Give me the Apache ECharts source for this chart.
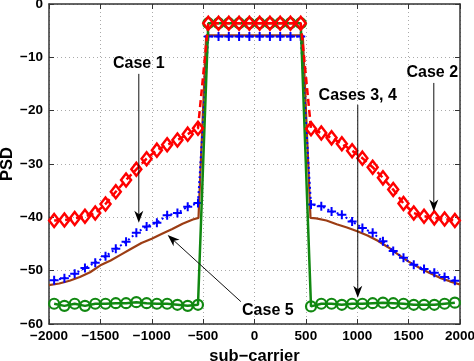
<!DOCTYPE html>
<html><head><meta charset="utf-8">
<script src="https://cdn.jsdelivr.net/npm/echarts@6/dist/echarts.min.js"></script>
<style>html,body{margin:0;padding:0;background:#fff}#c{width:474px;height:361px}</style>
</head><body><div id="c"></div>
<script>
// marker sub-carrier positions (shared by the marker series)
const markerX = [-1950,-1850,-1750,-1650,-1550,-1450,-1350,-1250,-1150,-1050,-950,-850,-750,-650,-550,
  -450,-350,-250,-150,-50,50,150,250,350,450,
  550,650,750,850,950,1050,1150,1250,1350,1450,1550,1650,1750,1850,1950];
// Case 1 (blue +, dotted)
const case1Blue = [-51.8,-51.4,-50.6,-49.5,-48.5,-47.3,-45.9,-44.6,-42.9,-41.7,-41.0,-39.6,-39.2,-38.0,-37.3,
  -6.1,-6.1,-6.1,-6.1,-6.1,-6.1,-6.1,-6.1,-6.1,-6.1,
  -37.6,-37.9,-38.9,-39.5,-40.8,-42.0,-42.9,-44.5,-46.3,-47.6,-48.9,-49.7,-50.4,-51.2,-51.9];
// Case 2 (red diamonds, dashed)
const case2Red = [-40.6,-40.5,-40.2,-39.8,-39.2,-37.5,-35.2,-33.0,-31.0,-29.0,-27.4,-26.4,-25.5,-24.4,-23.3,
  -3.6,-3.6,-3.6,-3.6,-3.6,-3.6,-3.6,-3.6,-3.6,-3.6,
  -23.4,-24.2,-25.1,-26.2,-27.5,-28.9,-30.6,-32.6,-34.8,-37.4,-39.2,-39.8,-40.1,-40.3,-40.6];
// Cases 3, 4 (green circles, solid)
const cases34Green = [-56.2,-56.6,-56.2,-56.6,-56.2,-56.2,-56.1,-56.1,-55.9,-56.1,-56.2,-56.2,-56.4,-56.6,-56.4,
  -3.6,-3.6,-3.6,-3.6,-3.6,-3.6,-3.6,-3.6,-3.6,-3.6,
  -56.7,-56.2,-56.2,-56.4,-56.2,-56.2,-56.1,-56.0,-56.1,-56.2,-56.4,-56.4,-56.4,-56.2,-56.0];
// Case 5 (brown solid line)
const case5BrownX = [-2000,-1900,-1800,-1700,-1600,-1500,-1400,-1300,-1200,-1100,-1000,-900,-800,-700,-600,-545,-470,
  470,545,600,700,800,900,1000,1100,1200,1300,1400,1500,1600,1700,1800,1900,2000];
const case5Brown = [-52.7,-52.4,-51.9,-51.2,-50.3,-49.0,-48.1,-47.0,-45.9,-44.8,-44.0,-43.1,-42.2,-41.2,-40.4,-40.1,-5.9,
  -5.9,-40.1,-40.2,-40.6,-41.3,-41.9,-42.6,-43.4,-44.4,-45.6,-47.0,-48.3,-49.4,-50.4,-51.3,-52.0,-52.6];

const xTicks = [-2000,-1500,-1000,-500,0,500,1000,1500,2000];
const yTicks = [-60,-50,-40,-30,-20,-10,0];
const xName = 'sub−carrier';
const yName = 'PSD';
const annotations = [
  {text:'Case 1', at:[-1126,-11.2], from:[-1126,-13.1], to:[-1126,-41.0]},
  {text:'Case 2', at:[1730,-12.9], from:[1745,-14.8], to:[1745,-38.9]},
  {text:'Cases 3, 4', at:[1005,-17.2], from:[1005,-18.9], to:[1005,-55.1]},
  {text:'Case 5', at:[130,-57.5], from:[-133,-55.8], to:[-845,-43.3]}
];

const FONT = '"Liberation Sans", Arial, Helvetica, sans-serif';
const AX = '#333';
const fmt = v => String(v).replace('-', '\u2212');
const pair = (xs, ys) => xs.map((x, i) => [x, ys[i]]);

const chart = echarts.init(document.getElementById('c'), null, {renderer: 'canvas'});
const axisCommon = {
  axisLine: {show: true, onZero: false, lineStyle: {color: AX, width: 1.5}},
  axisTick: {show: true, inside: true, length: 5, lineStyle: {color: AX, width: 1}},
};
const option = {
  animation: false,
  backgroundColor: '#fff',
  grid: {left: 49, right: 14, top: 4, bottom: 37, containLabel: false, outerBoundsMode: 'none'},
  xAxis: [
    Object.assign({
      type: 'value', min: xTicks[0], max: xTicks[xTicks.length - 1], interval: xTicks[1] - xTicks[0],
      name: xName, nameLocation: 'middle', nameGap: 20,
      nameTextStyle: {fontFamily: FONT, fontWeight: 'bold', fontSize: 16.5, color: '#000'},
      axisLabel: {formatter: fmt, fontFamily: FONT, fontWeight: 'bold', fontSize: 13.5, color: '#000', margin: 5},
      splitLine: {show: true, lineStyle: {color: '#aaa', type: [1, 3], width: 1}}
    }, axisCommon),
    Object.assign({
      type: 'value', position: 'top', min: xTicks[0], max: xTicks[xTicks.length - 1], interval: xTicks[1] - xTicks[0],
      axisLabel: {show: false}, splitLine: {show: false}
    }, axisCommon)
  ],
  yAxis: [
    Object.assign({
      type: 'value', min: yTicks[0], max: yTicks[yTicks.length - 1], interval: yTicks[1] - yTicks[0],
      name: yName, nameLocation: 'middle', nameGap: 33, nameRotate: 90, nameMoveOverlap: false,
      nameTextStyle: {fontFamily: FONT, fontWeight: 'bold', fontSize: 16.5, color: '#000'},
      axisLabel: {formatter: fmt, fontFamily: FONT, fontWeight: 'bold', fontSize: 13.5, color: '#000', margin: 6},
      splitLine: {show: true, lineStyle: {color: '#aaa', type: [1, 3], width: 1}}
    }, axisCommon),
    Object.assign({
      type: 'value', position: 'right', min: yTicks[0], max: yTicks[yTicks.length - 1], interval: yTicks[1] - yTicks[0],
      axisLabel: {show: false}, splitLine: {show: false}
    }, axisCommon)
  ],
  series: [
    {
      name: 'Case 5', type: 'line', data: pair(case5BrownX, case5Brown), symbol: 'none',
      lineStyle: {color: '#9c3d14', width: 2.2}, z: 2, silent: true
    },
    {
      name: 'Case 1', type: 'line', data: pair(markerX, case1Blue), showAllSymbol: true,
      symbol: 'path://M3.5,0H5.5V3.5H9V5.5H5.5V9H3.5V5.5H0V3.5H3.5Z', symbolSize: 9,
      itemStyle: {color: '#0000ff'}, lineStyle: {color: '#0000ff', width: 2, type: [2, 3]}, z: 3, silent: true
    },
    {
      name: 'Cases 3, 4', type: 'line', data: pair(markerX, cases34Green), showAllSymbol: true,
      symbol: 'circle', symbolSize: 10,
      itemStyle: {color: 'rgba(255,255,255,0)', borderColor: '#118811', borderWidth: 2.2},
      lineStyle: {color: '#118811', width: 2.5}, z: 4, silent: true
    },
    {
      name: 'Case 2', type: 'line', data: pair(markerX, case2Red), showAllSymbol: true,
      symbol: 'diamond', symbolSize: [10, 13],
      itemStyle: {color: 'rgba(255,255,255,0)', borderColor: '#ff0000', borderWidth: 2.5},
      lineStyle: {color: '#ff0000', width: 2.5, type: [7, 4]}, z: 5, silent: true
    }
  ]
};
chart.setOption(option);

function buildAnnotations() {
  const els = [];
  annotations.forEach(a => {
    const p = chart.convertToPixel({gridIndex: 0}, a.at);
    const f = chart.convertToPixel({gridIndex: 0}, a.from);
    const t = chart.convertToPixel({gridIndex: 0}, a.to);
    els.push({type: 'text', z: 100, style: {text: a.text, x: p[0], y: p[1], align: 'center', verticalAlign: 'middle',
      font: 'bold 16px ' + FONT, fill: '#000'}});
    const dx = t[0] - f[0], dy = t[1] - f[1];
    const L = Math.hypot(dx, dy), ux = dx / L, uy = dy / L, nx = -uy, ny = ux;
    const len = 12, hw = 4.5, notch = 8.5;
    const bx = t[0] - ux * len, by = t[1] - uy * len;
    const kx = t[0] - ux * notch, ky = t[1] - uy * notch;
    els.push({type: 'line', z: 100, shape: {x1: f[0], y1: f[1], x2: kx, y2: ky}, style: {stroke: '#111', lineWidth: 1}});
    els.push({type: 'polygon', z: 100, shape: {points: [[t[0], t[1]], [bx + nx * hw, by + ny * hw], [kx, ky], [bx - nx * hw, by - ny * hw]]},
      style: {fill: '#000'}});
  });
  chart.setOption({graphic: {elements: els}});
}
buildAnnotations();
</script>
</body></html>
